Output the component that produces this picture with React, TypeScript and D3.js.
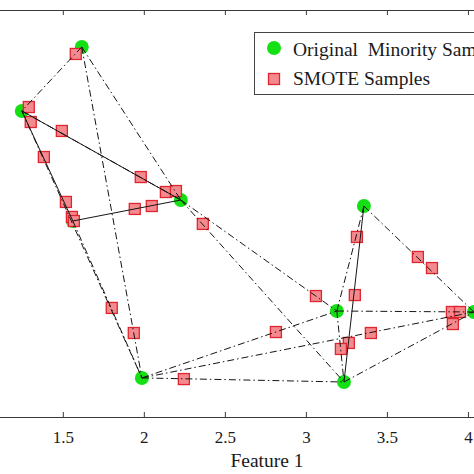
import React, { useEffect, useRef } from "react";
import * as d3 from "d3";

// original minority samples
const origX = [1.617, 1.247, 2.228, 1.562, 1.988, 3.358, 3.191, 3.235, 4.037];
const origY = [2.273, 1.88, 1.333, 1.204, 0.24, 1.296, 0.651, 0.215, 0.645];

// synthetic SMOTE samples
const smoteX = [
  1.58, 1.29, 1.302, 1.494, 1.383, 1.981, 2.136, 2.198, 1.519, 1.556, 1.568,
  1.944, 2.049, 2.364, 1.802, 1.938, 2.247, 2.815, 3.062, 3.302, 3.315, 3.691,
  3.778, 3.401, 3.265, 3.216, 3.901, 3.951, 3.907,
];
const smoteY = [
  2.23, 1.904, 1.812, 1.757, 1.597, 1.474, 1.382, 1.388, 1.321, 1.229, 1.204,
  1.278, 1.296, 1.186, 0.67, 0.516, 0.233, 0.522, 0.743, 0.749, 1.106, 0.983,
  0.915, 0.516, 0.455, 0.418, 0.645, 0.645, 0.571,
];

// neighbour links between originals (index pairs) and their line style
const linkFrom = [0, 0, 0, 1, 1, 1, 1, 3, 3, 2, 2, 4, 4, 4, 5, 5, 5, 6, 7, 6];
const linkTo = [1, 2, 4, 2, 2, 3, 4, 2, 4, 6, 7, 6, 8, 7, 8, 7, 6, 8, 8, 7];
const linkSolid = [0, 0, 0, 1, 0, 1, 0, 1, 0, 0, 0, 0, 0, 0, 0, 1, 0, 0, 0, 0];

const xTicks = [1.5, 2, 2.5, 3, 3.5, 4];

const W = 474;
const H = 474;
const FONT = "'Liberation Serif', 'Times New Roman', serif";

const App = () => {
  const ref = useRef<SVGSVGElement>(null);

  useEffect(() => {
    if (!ref.current) return;
    const svg = d3.select(ref.current);
    svg.selectAll("*").remove();

    const x = d3.scaleLinear().domain([1.1, 4.42]).range([-2, 536]);
    const y = d3.scaleLinear().domain([0, 2.5]).range([417, 10]);

    svg.append("rect").attr("width", W).attr("height", H).attr("fill", "#fff");

    // frame + inward ticks
    const bottom = svg
      .append("g")
      .attr("transform", `translate(0,${y(0)})`)
      .call(
        d3.axisBottom(x).tickValues(xTicks).tickSizeInner(-5).tickSizeOuter(0)
          .tickPadding(14).tickFormat((d) => String(d))
      );
    const top = svg
      .append("g")
      .attr("transform", `translate(0,${y(2.5)})`)
      .call(
        d3.axisTop(x).tickValues(xTicks).tickSizeInner(-5).tickSizeOuter(0)
          .tickFormat(() => "")
      );
    [bottom, top].forEach((g) => {
      g.select(".domain").attr("stroke", "#3a3a3a");
      g.selectAll(".tick line").attr("stroke", "#3a3a3a");
      g.selectAll("text")
        .attr("fill", "#1a1a1a")
        .style("font-family", FONT)
        .style("font-size", "17px");
    });

    svg
      .append("text")
      .attr("x", 267)
      .attr("y", 467)
      .attr("text-anchor", "middle")
      .attr("fill", "#1a1a1a")
      .style("font-family", FONT)
      .style("font-size", "19.5px")
      .text("Feature 1");

    const plot = svg.append("g");

    plot
      .selectAll("circle")
      .data(origX.map((d, i) => [d, origY[i]]))
      .join("circle")
      .attr("cx", (d) => x(d[0]))
      .attr("cy", (d) => y(d[1]))
      .attr("r", 7)
      .attr("fill", "#14e014");

    const sq = 11;
    plot
      .selectAll("rect.smote")
      .data(smoteX.map((d, i) => [d, smoteY[i]]))
      .join("rect")
      .attr("class", "smote")
      .attr("x", (d) => x(d[0]) - sq / 2)
      .attr("y", (d) => y(d[1]) - sq / 2)
      .attr("width", sq)
      .attr("height", sq)
      .attr("fill", "#f58a8e")
      .attr("stroke", "#df2630")
      .attr("stroke-width", 1.3);

    plot
      .selectAll("line")
      .data(linkFrom.map((a, i) => [a, linkTo[i], linkSolid[i]]))
      .join("line")
      .attr("x1", (d) => x(origX[d[0]]))
      .attr("y1", (d) => y(origY[d[0]]))
      .attr("x2", (d) => x(origX[d[1]]))
      .attr("y2", (d) => y(origY[d[1]]))
      .attr("stroke", "#151515")
      .attr("stroke-width", 1)
      .attr("stroke-dasharray", (d) => (d[2] ? null : "7,3,1.5,3"));

    // legend
    const lg = svg.append("g");
    lg.append("rect")
      .attr("x", 254.5)
      .attr("y", 32.5)
      .attr("width", 260)
      .attr("height", 62)
      .attr("fill", "#fff")
      .attr("stroke", "#444");
    lg.append("circle").attr("cx", 274).attr("cy", 48).attr("r", 7).attr("fill", "#14e014");
    lg.append("rect")
      .attr("x", 274 - sq / 2)
      .attr("y", 79 - sq / 2)
      .attr("width", sq)
      .attr("height", sq)
      .attr("fill", "#f58a8e")
      .attr("stroke", "#df2630")
      .attr("stroke-width", 1.3);
    lg.selectAll("text")
      .data(["Original  Minority Samples", "SMOTE Samples"])
      .join("text")
      .attr("x", 293)
      .attr("y", (_, i) => (i === 0 ? 56 : 85))
      .attr("fill", "#1a1a1a")
      .style("white-space", "pre")
      .style("font-family", FONT)
      .style("font-size", "19.5px")
      .text((d) => d);
  }, []);

  return (
    <svg
      ref={ref}
      width={W}
      height={H}
      style={{ position: "absolute", left: 0, top: 0 }}
    />
  );
};

export default App;
